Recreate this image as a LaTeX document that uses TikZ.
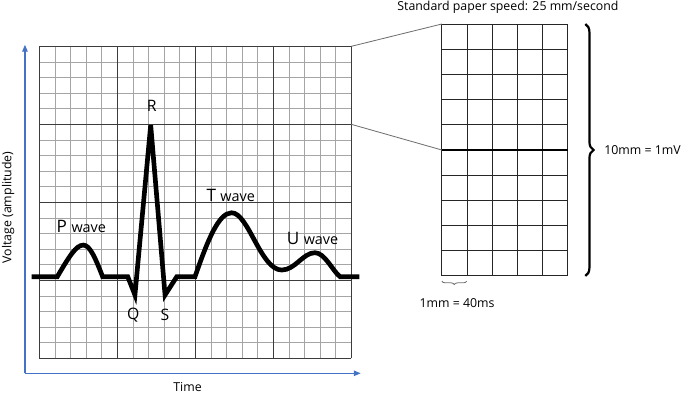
\documentclass[tikz,border=0pt]{standalone}
\usepackage{fontspec}
\setmainfont{Open Sans}
\usetikzlibrary{arrows.meta, decorations.pathreplacing}
\definecolor{axisblue}{RGB}{68,114,196}
\definecolor{minorgray}{RGB}{165,165,165}
\definecolor{majorgray}{RGB}{60,60,60}
\definecolor{zoomgray}{RGB}{110,110,110}
\tikzset{
  minorgrid/.style={minorgray, line width=0.6pt},
  majorgrid/.style={majorgray, line width=0.7pt},
  ecgline/.style={line width=3.4pt},
  axisline/.style={axisblue, line width=0.8pt, -{Triangle[length=5pt,width=4pt]}},
  zoomline/.style={zoomgray, line width=0.6pt},
  peaklbl/.style={font=\fontsize{11.5}{13}\selectfont, inner sep=0pt},
  wavelbl/.style={font=\fontsize{12.5}{14}\selectfont, inner sep=0pt, anchor=west},
  smalllbl/.style={font=\fontsize{9}{11}\selectfont, inner sep=0pt},
}
\newcommand{\wv}{{\fontsize{10.5}{12}\selectfont wave}}

\begin{document}
\begin{tikzpicture}[x=0.4cm, y=0.4cm]
  \useasboundingbox (-2.52,-2.42) rectangle (41.39,22.97);

  % ECG paper: 20 x 20 small squares
  \draw[minorgrid, step=1] (0,0) grid (20,20);
  \draw[majorgrid, step=5] (0,0) grid (20,20);

  % Axes
  \coordinate (origin) at (-0.92,-0.96);
  \coordinate (ytip) at (-0.92,20.1);
  \coordinate (xtip) at (20.6,-0.96);
  \draw[axisline] (origin) -- (ytip);
  \draw[axisline] (origin) -- (xtip);
  \node[smalllbl] (timelbl) at (9.5,-1.84) {Time};
  \node[smalllbl, rotate=90] (voltlbl) at (-2.0,9.67) {Voltage (amplitude)};

  % The trace
  \draw[ecgline] (-0.49,5.23) -- (1.15,5.23)
    .. controls (1.9,6.5) and (2.35,7.26) .. (2.82,7.26)
    .. controls (3.25,7.26) and (3.6,6.4) .. (4.06,5.23)
    -- (5.67,5.23) -- (6.13,4.06) -- (7.14,14.95) -- (8.06,4.06)
    -- (8.81,5.23) -- (9.98,5.23)
    .. controls (10.8,7.6) and (11.5,9.33) .. (12.33,9.33)
    .. controls (13.4,9.33) and (14.2,5.66) .. (15.54,5.66)
    .. controls (16.4,5.66) and (16.9,6.77) .. (17.67,6.77)
    .. controls (18.3,6.77) and (18.8,5.6) .. (19.28,5.23)
    -- (20.51,5.23);

  % Wave labels
  \node[peaklbl] (rlbl) at (7.2,16.17) {R};
  \node[peaklbl] (qlbl) at (6.03,2.78) {Q};
  \node[peaklbl] (slbl) at (8.06,2.78) {S};
  \node[wavelbl] (plbl) at (1.1,8.48) {P \wv};
  \node[wavelbl] (tlbl) at (10.7,10.47) {T \wv};
  \node[wavelbl] (ulbl) at (15.85,7.69) {U \wv};

  % Enlarged piece of paper
  \begin{scope}[shift={(25.8,5.28)}, scale=1.615]
    \draw[black!85, line width=0.7pt, step=1] (0,0) grid (5,10);
    \draw[line width=1.6pt] (0,5) -- (5,5);
    \coordinate (zoomtl) at (0,10);
    \coordinate (zoomml) at (0,5);
  \end{scope}
  \coordinate (papertr) at (20,20);
  \coordinate (paperr) at (20,15);
  \draw[zoomline] (papertr) -- (zoomtl);
  \draw[zoomline] (paperr) -- (zoomml);

  % Scale notes
  \node[smalllbl] (speedlbl) at (30.04,22.52) {Standard paper speed: 25 mm/second};
  \coordinate (bracetop) at (35.0,21.43);
  \coordinate (bracebot) at (35.0,5.28);
  \draw[line width=1.6pt, decorate, decoration={brace, amplitude=6pt}]
    (bracetop) -- (bracebot);
  \node[smalllbl, anchor=west] (mvlbl) at (36.2,13.355) {10mm = 1mV};
  \coordinate (mmright) at (27.4,4.95);
  \coordinate (mmleft) at (25.8,4.95);
  \draw[zoomgray, line width=0.6pt, decorate, decoration={brace, amplitude=2.5pt}]
    (mmright) -- (mmleft);
  \node[smalllbl] (mslbl) at (26.78,3.56) {1mm = 40ms};
\end{tikzpicture}
\end{document}
